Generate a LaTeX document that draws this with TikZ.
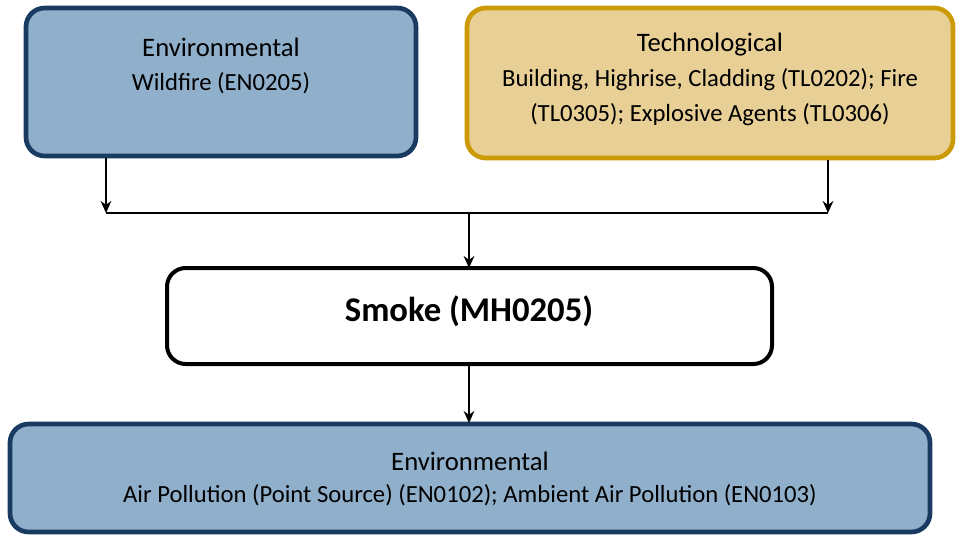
\documentclass[tikz,border=0pt]{standalone}
\usepackage{fontspec}
\setmainfont{Carlito}
\usetikzlibrary{arrows.meta}
\definecolor{envfill}{HTML}{8FAFCB}
\definecolor{envdraw}{HTML}{193B61}
\definecolor{techfill}{HTML}{E8CF95}
\definecolor{techdraw}{HTML}{CC9A06}
\begin{document}
\begin{tikzpicture}[x=0.75pt,y=-0.75pt,
  box/.style={rounded corners=14pt,line width=3.5pt,align=center,inner sep=0pt},
  arr/.style={line width=2pt,-{Stealth[length=9pt,width=8pt]}},
  ttl/.style={font=\fontsize{20}{24}\selectfont},
  sub/.style={font=\fontsize{18.5}{26}\selectfont}]
\useasboundingbox (0,0) rectangle (962,542);
\draw[box,fill=envfill,draw=envdraw] (26,8) rectangle (416,156);
\draw[box,fill=techfill,draw=techdraw] (467,8) rectangle (953,158);
\draw[box,fill=white,draw=black,line width=3pt] (167,268) rectangle (772,364);
\draw[box,fill=envfill,draw=envdraw] (10,424) rectangle (930,532);
\node[ttl] (t1) at (221,47) {Environmental};
\node[sub] (s1) at (221,83) {Wildfire (EN0205)};
\node[ttl] (t2) at (710,45) {Technological};
\node[sub,align=center] (s2) at (710,97) {Building, Highrise, Cladding (TL0202); Fire\\(TL0305); Explosive Agents (TL0306)};
\node[font=\fontsize{26}{30}\selectfont\bfseries] (sm) at (469,311) {Smoke (MH0205)};
\node[ttl] (t3) at (470,461) {Environmental};
\node[sub] (s3) at (470,495) {Air Pollution (Point Source) (EN0102); Ambient Air Pollution (EN0103)};
\coordinate (a1) at (106,158); \coordinate (a2) at (106,213);
\coordinate (b1) at (828,160); \coordinate (b2) at (828,213);
\coordinate (m) at (469,213); \coordinate (m2) at (469,268);
\coordinate (d1) at (469,365); \coordinate (d2) at (469,423);
\draw[arr] (a1) -- (a2);
\draw[arr] (b1) -- (b2);
\draw[line width=2pt] (a2) -- (b2);
\draw[arr] (m) -- (m2);
\draw[arr] (d1) -- (d2);
\end{tikzpicture}
\end{document}
